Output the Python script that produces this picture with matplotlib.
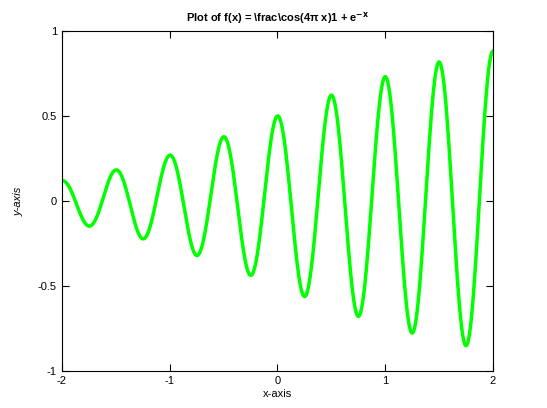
import numpy as np
import matplotlib
matplotlib.use("Agg")
import matplotlib.pyplot as plt

plt.rcParams['font.family'] = ['Liberation Sans', 'DejaVu Sans']

# Curve as defined in the title: f(x) = cos(4*pi*x) / (1 + e^-x)
x_values = np.linspace(-2, 2, 801)
y_values = np.cos(4 * np.pi * x_values) / (1 + np.exp(-x_values))
x_ticks = [-2, -1, 0, 1, 2]
y_ticks = [-1, -0.5, 0, 0.5, 1]
y_tick_labels = ['-1', '-0.5', '0', '0.5', '1']

fig = plt.figure(figsize=(5.47, 4.08), dpi=100)
ax = fig.add_axes([0.113, 0.091, 0.788, 0.833])
ax.plot(x_values, y_values, color='#00ff00', lw=2.5)
ax.set_xlim(-2, 2)
ax.set_ylim(-1, 1)
ax.set_xticks(x_ticks)
ax.set_xticklabels([str(t) for t in x_ticks])
ax.set_yticks(y_ticks)
ax.set_yticklabels(y_tick_labels)
ax.tick_params(direction='in', top=True, right=True, labelsize=8, length=5)
ax.set_xlabel('x-axis', fontsize=8, labelpad=2)
ax.set_ylabel('y-axis', fontsize=8, style='italic', labelpad=10)
ax.set_title(r'Plot of f(x) = \frac\cos(4π x)1 + e$^{\mathbf{-x}}$', fontsize=8, fontweight='bold', pad=7)
fig.savefig('out.png', dpi=100)
